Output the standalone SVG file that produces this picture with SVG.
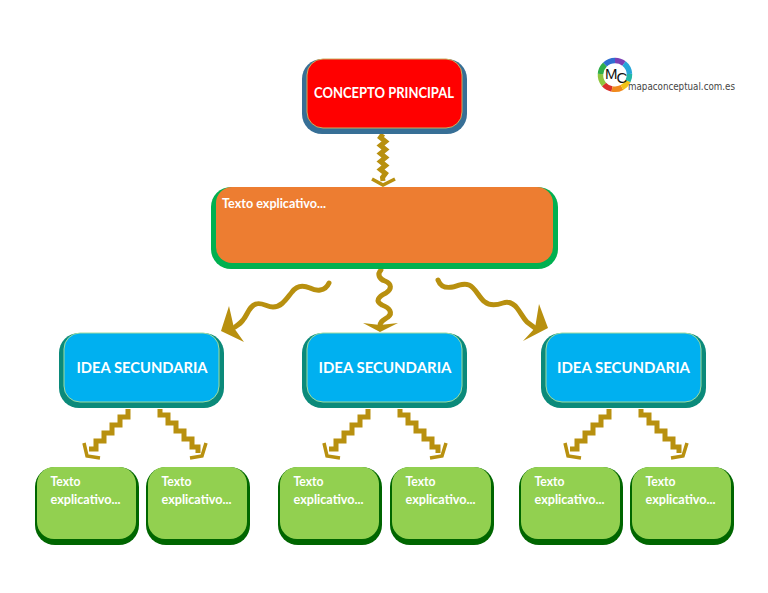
<svg xmlns="http://www.w3.org/2000/svg" xmlns:xlink="http://www.w3.org/1999/xlink" width="768" height="593" viewBox="0 0 768 593">
<style>
text{font-family:Lato,"Liberation Sans",sans-serif;font-weight:700;fill:#fff}
.title{font-size:14.500px}
.idea{font-size:15.500px}
.small{font-size:13px}
.wave{fill:none;stroke:#b8900f;stroke-width:5;stroke-linecap:round;stroke-linejoin:round}
.zig{fill:none;stroke:#b8900f;stroke-width:5;stroke-linejoin:miter}
.vee{fill:none;stroke:#b8900f;stroke-width:3.500;stroke-linejoin:miter}
.head{fill:#b8900f}
.inb{fill:#00b0f0;stroke:#9fdc9f;stroke-width:1}
.outb{fill:#0b8a7a}
.ing{fill:#92d050}
.outg{fill:#006600}
</style>
<defs>
<g id="stairs">
<path class="zig" d="M128 409V417H120V425H112V433H104V441H96V449H89"/>
<path class="vee" d="M84 443L87 456L100 458"/>
<path class="zig" d="M160 409V415H168V423H176V431H184V439H192V447H198V453"/>
<path class="vee" d="M206 443L202 456L190 458"/>
</g>
<g id="leaf">
<rect class="outg" x="35" y="467" width="104" height="78" rx="20"/>
<rect class="ing" x="37" y="467" width="99" height="72" rx="17"/>
<text class="small" x="50.500" y="486" textLength="30" lengthAdjust="spacingAndGlyphs">Texto</text>
<text class="small" x="50.500" y="504" textLength="70" lengthAdjust="spacingAndGlyphs">explicativo...</text>
</g>
</defs>

<g id="connectors">
<path class="zig" d="M383 134L380.500 137.500L385.500 141.500L380.500 145.500L385.500 149.500L380.500 153.500L385.500 157.500L380.500 161.500L385.500 165.500L380.500 169.500L385.500 173.500L382.500 177.500L383 181"/>
<path class="vee" d="M372 179L383 185L395 179"/>
<path class="wave" d="M329 283C325 292 316 291 310 288C303 285 297 285 292 292C287 298 282 307 273 307C267 307 262 302 256 304C249 306 248 314 243 320C241 323 238 325 235 327"/>
<path class="head" d="M229 306L221 331L244 342L234 328Z"/>
<path class="wave" d="M381 270C377 274 379 279 385 281C392 284 392 289 386 293C378 297 375 301 382 305C390 308 393 313 388 317C384 320 380 321 380 326"/>
<path class="head" d="M363 323L380 332L398 323L380 325Z"/>
<path class="wave" d="M438 280C441 288 447 288 453 287C459 285 464 283 469 285C476 288 479 298 485 302C490 306 497 305 503 303C509 301 513 303 517 308C521 313 523 318 527 322L535 328"/>
<path class="head" d="M539 304L548 328L523 341L535 328Z"/>
<use xlink:href="#stairs" href="#stairs"/>
<use xlink:href="#stairs" href="#stairs" x="240"/>
<use xlink:href="#stairs" href="#stairs" x="481"/>
</g>

<g id="concepto-principal">
<rect x="302" y="59" width="165" height="75" rx="20" fill="#376f96"/>
<rect x="307" y="59" width="155" height="69" rx="16" fill="#ff0000" stroke="#c8b060" stroke-width="1"/>
<text class="title" x="314" y="97.500" textLength="140" lengthAdjust="spacingAndGlyphs">CONCEPTO PRINCIPAL</text>
</g>

<g id="texto-principal">
<rect x="211" y="187" width="347" height="82" rx="20" fill="#00b050"/>
<rect x="216" y="187" width="337" height="76" rx="16" fill="#ed7d31"/>
<text class="small" x="222" y="208" textLength="104" lengthAdjust="spacingAndGlyphs">Texto explicativo...</text>
</g>

<g id="idea-1">
<rect class="outb" x="59" y="333" width="165" height="75" rx="20"/>
<rect class="inb" x="64" y="333" width="155" height="69" rx="16"/>
<text class="idea" x="76.500" y="372.500" textLength="131" lengthAdjust="spacingAndGlyphs">IDEA SECUNDARIA</text>
</g>
<g id="idea-2">
<rect class="outb" x="302" y="333" width="165" height="75" rx="20"/>
<rect class="inb" x="307" y="333" width="155" height="69" rx="16"/>
<text class="idea" x="318.500" y="372.500" textLength="133" lengthAdjust="spacingAndGlyphs">IDEA SECUNDARIA</text>
</g>
<g id="idea-3">
<rect class="outb" x="541" y="333" width="165" height="75" rx="20"/>
<rect class="inb" x="546" y="333" width="155" height="69" rx="16"/>
<text class="idea" x="557" y="372.500" textLength="133" lengthAdjust="spacingAndGlyphs">IDEA SECUNDARIA</text>
</g>

<g id="leaf-1"><use xlink:href="#leaf" href="#leaf"/></g>
<g id="leaf-2"><use xlink:href="#leaf" href="#leaf" x="111"/></g>
<g id="leaf-3"><use xlink:href="#leaf" href="#leaf" x="243"/></g>
<g id="leaf-4"><use xlink:href="#leaf" href="#leaf" x="355"/></g>
<g id="leaf-5"><use xlink:href="#leaf" href="#leaf" x="484"/></g>
<g id="leaf-6"><use xlink:href="#leaf" href="#leaf" x="595"/></g>

<g id="logo">
<g fill="none" stroke-width="5.500">
<path stroke="#d9312b" d="M604 84.500A14.500 14.500 0 0 0 612 89"/>
<path stroke="#f08a1d" d="M612 89A14.500 14.500 0 0 0 622 87.500"/>
<path stroke="#f2c218" d="M622 87.500A14.500 14.500 0 0 0 628 81"/>
<path stroke="#8fc63f" d="M604 84.500A14.500 14.500 0 0 1 600.500 74"/>
<path stroke="#2fae4a" d="M600.500 74A14.500 14.500 0 0 1 605 64.500"/>
<path stroke="#2f6fd0" d="M605 64.500A14.500 14.500 0 0 1 615 60.500"/>
<path stroke="#7b3fb5" d="M615 60.500A14.500 14.500 0 0 1 624 63.500"/>
<path stroke="#26a6d9" d="M624 63.500A14.500 14.500 0 0 1 629.500 74"/>
<path stroke="#22b8a8" d="M629.500 74A14.500 14.500 0 0 1 628 81"/>
</g>
<text x="605" y="79" style="font-family:'Liberation Sans',sans-serif;font-weight:400;fill:#111;font-size:15px">M<tspan dx="-1" dy="4">C</tspan></text>
<text x="628" y="90" textLength="107" lengthAdjust="spacingAndGlyphs" style="font-family:'DejaVu Sans',sans-serif;font-weight:400;fill:#444;font-size:10px">mapaconceptual.com.es</text>
</g>
</svg>
